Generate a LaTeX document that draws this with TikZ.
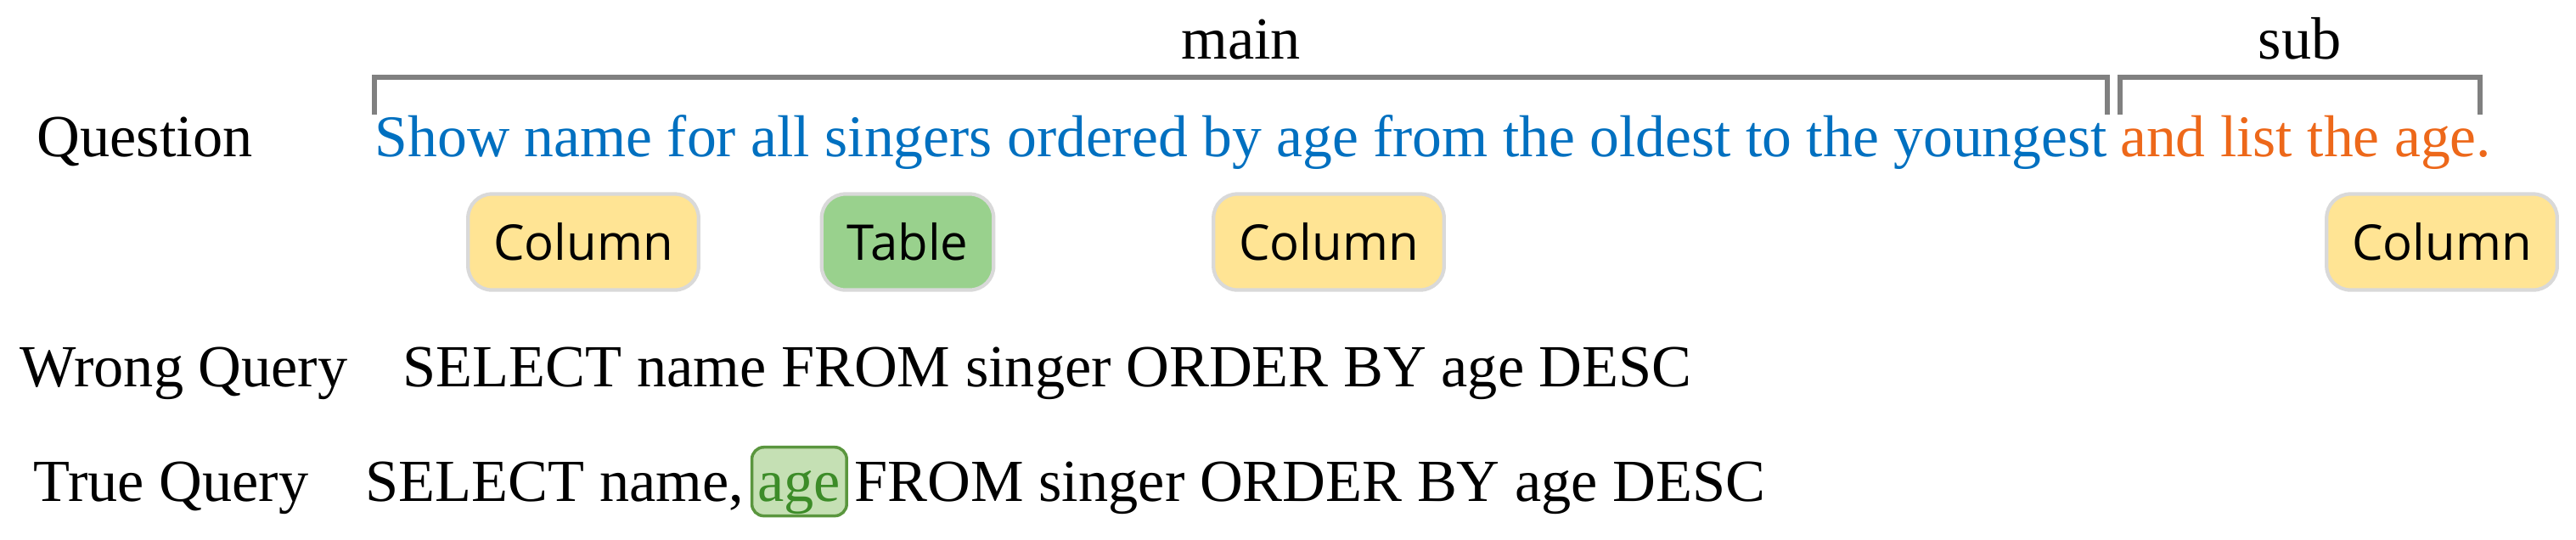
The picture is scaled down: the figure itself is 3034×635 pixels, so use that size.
\documentclass[tikz,border=0pt]{standalone}
\usepackage{fontspec}
\setmainfont{Liberation Serif}
\newfontfamily\badgefont{Open Sans}
\usetikzlibrary{positioning}
\definecolor{qblue}{RGB}{0,112,192}
\definecolor{qorange}{RGB}{237,104,26}
\definecolor{colfill}{RGB}{255,228,148}
\definecolor{tabfill}{RGB}{153,209,141}
\definecolor{agefill}{RGB}{197,224,180}
\definecolor{ageline}{RGB}{90,150,62}
\definecolor{agetext}{RGB}{60,140,40}

\begin{document}
\begin{tikzpicture}[x=0.01cm, y=-0.01cm,
    txt/.style={font=\fontsize{20}{24}\selectfont, inner sep=0pt, anchor=base west},
    qtxt/.style={txt, font=\fontsize{19.8}{24}\selectfont},
    badge/.style={font=\badgefont\fontsize{16.5}{20}\selectfont, draw=black!15, line width=1.2pt,
        rounded corners=8pt, minimum height=1.13cm, inner xsep=0.3cm},
    agebox/.style={txt, text=agetext, fill=agefill, draw=ageline, line width=1pt, rounded corners=4pt,
        inner xsep=2pt, inner ysep=3pt, text height=15pt, text depth=2pt},
    brk/.style={draw=black!50, line width=1.7pt},
    lbl/.style={font=\fontsize{20}{24}\selectfont, inner sep=0pt, above=5pt}]
\useasboundingbox (0,0) rectangle (3034,635);

% question
\node[txt] (question) at (43,184) {Question};
\node[qtxt, text=qblue] (qmain) at (441,184) {Show name for all singers ordered by age from the oldest to the youngest};
\node[qtxt, text=qorange] (qsub) at ([xshift=4pt]qmain.base east) {and list the age.};

\coordinate (brtop) at (0,91);
\coordinate (brfoot) at (0,135);
\draw[brk] (qmain.west |- brfoot) -- (qmain.west |- brtop)
    -- node[lbl, midway] (lmain) {main} (qmain.east |- brtop) -- (qmain.east |- brfoot);
\draw[brk] (qsub.west |- brfoot) -- (qsub.west |- brtop)
    -- node[lbl, midway] (lsub) {sub} ([xshift=-4pt]qsub.east |- brtop) -- ([xshift=-4pt]qsub.east |- brfoot);

% schema tags
\node[badge, fill=colfill] (col1) at (687,285) {Column};
\node[badge, fill=tabfill] (tab1) at (1069,285) {Table};
\node[badge, fill=colfill] (col2) at (1565,285) {Column};
\node[badge, fill=colfill] (col3) at (2876,285) {Column};

% queries
\node[txt] (wronglbl) at (23,455) {Wrong Query};
\node[txt] (wrongsql) at (474,455) {SELECT name FROM singer ORDER BY age DESC};

\node[txt] (truelbl) at (39,590) {True Query};
\node[txt] (truesel) at (430,590) {SELECT name,};
\node[agebox] (trueage) at ([xshift=2pt]truesel.base east) {age};
\node[txt] (truefrom) at ([xshift=2pt]trueage.base east) {FROM singer ORDER BY age DESC};
\end{tikzpicture}
\end{document}
